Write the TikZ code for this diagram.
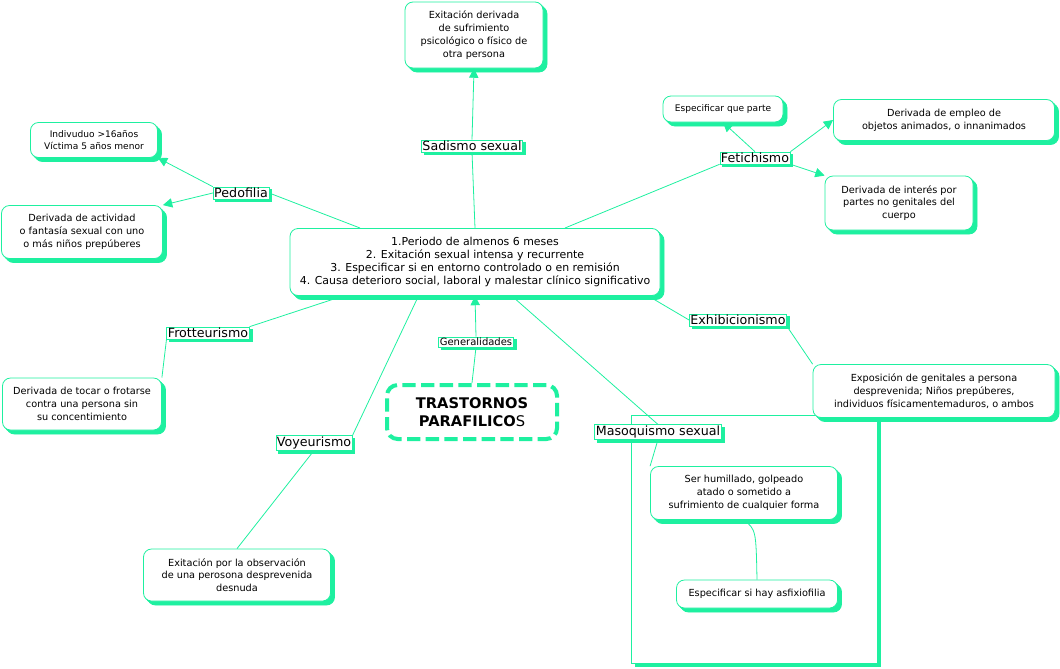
\documentclass[tikz,border=0pt]{standalone}
\usepackage{fontspec}
\setmainfont{DejaVu Sans}
\usetikzlibrary{arrows.meta,shadows}
\definecolor{gr}{RGB}{30,240,160}
\begin{document}
\begin{tikzpicture}[x=0.75pt,y=-0.75pt,
 box/.style={draw=gr,fill=white,rounded corners=6pt,line width=0.6pt,align=center,font=\fontsize{7.3}{9.6}\selectfont,inner sep=2pt,
   double copy shadow={shadow xshift=1.5pt,shadow yshift=-1.5pt,draw=gr,fill=gr,opacity=1}},
 lbl/.style={draw=gr,fill=white,line width=0.5pt,inner sep=0.8pt,font=\fontsize{9.5}{11}\selectfont,
   copy shadow={shadow xshift=2pt,shadow yshift=-2pt,draw=gr,fill=gr}},
 ln/.style={draw=gr,line width=0.6pt},
 ar/.style={ln,-{Triangle[length=7pt,width=7pt]}}]
\useasboundingbox (0,0) rectangle (1060,668);
% big rectangle
\fill[gr] (635,419) rectangle (881,667);
\draw[ln,fill=white] (631,415) rectangle (877,663);
\node[box,minimum width=138*0.75pt,minimum height=66*0.75pt] (top) at (474,35) {Exitación derivada\\de sufrimiento\\psicológico o físico de\\otra persona};
\node[box,minimum width=370*0.75pt,minimum height=67*0.75pt,font=\fontsize{8.2}{9.9}\selectfont] (cen) at (475,262) {1.Periodo de almenos 6 meses\\2. Exitación sexual intensa y recurrente\\3. Especificar si en entorno controlado o en remisión\\4. Causa deterioro social, laboral y malestar clínico significativo};
\node[draw=gr,dashed,dash pattern=on 10pt off 4pt,line width=3pt,rounded corners=8pt,fill=white,minimum width=170*0.75pt,minimum height=54*0.75pt,align=center,font=\bfseries\fontsize{11}{13}\selectfont] (ttl) at (472,412) {TRASTORNOS\\PARAFILICO{\mdseries S}};
\node[box,minimum width=127*0.75pt,minimum height=35*0.75pt,font=\fontsize{6.8}{8.5}\selectfont] (ind) at (94,140) {Indivuduo >16años\\Víctima 5 años menor};
\node[box,minimum width=161*0.75pt,minimum height=53*0.75pt] (dact) at (82,232) {Derivada de actividad\\o fantasía sexual con uno\\o más niños prepúberes};
\node[box,minimum width=120*0.75pt,minimum height=26*0.75pt,font=\fontsize{6.8}{8.5}\selectfont] (esp) at (723,109) {Especificar que parte};
\node[box,minimum width=221*0.75pt,minimum height=41*0.75pt] (demp) at (944,120) {Derivada de empleo de\\objetos animados, o innanimados};
\node[box,minimum width=148*0.75pt,minimum height=54*0.75pt] (dint) at (899,203) {Derivada de interés por\\partes no genitales del\\cuerpo};
\node[box,minimum width=242*0.75pt,minimum height=53*0.75pt] (expo) at (934,391) {Exposición de genitales a persona\\desprevenida; Niños prepúberes,\\individuos físicamentemaduros, o ambos};
\node[box,minimum width=159*0.75pt,minimum height=52*0.75pt] (toc) at (82,404) {Derivada de tocar o frotarse\\contra una persona sin\\su concentimiento};
\node[box,minimum width=187*0.75pt,minimum height=52*0.75pt] (obs) at (237,575) {Exitación por la observación\\de una perosona desprevenida\\desnuda};
\node[box,minimum width=187*0.75pt,minimum height=53*0.75pt] (ser) at (744,493) {Ser humillado, golpeado\\atado o sometido a\\sufrimiento de cualquier forma};
\node[box,minimum width=161*0.75pt,minimum height=28*0.75pt] (asf) at (757,594) {Especificar si hay asfixiofilia};
% labels
\node[lbl] (sad) at (472,146) {Sadismo sexual};
\node[lbl,font=\fontsize{7.5}{9}\selectfont] (gen) at (476,342) {Generalidades};
\node[lbl] (ped) at (241,193) {Pedofilia};
\node[lbl] (fet) at (755,158) {Fetichismo};
\node[lbl] (exh) at (738,320) {Exhibicionismo};
\node[lbl] (fro) at (208,333) {Frotteurismo};
\node[lbl] (voy) at (314,443) {Voyeurismo};
\node[lbl] (mas) at (658,432) {Masoquismo sexual};
% connectors
\begin{scope}[on background layer/.style={}]
\end{scope}
\draw[ln] (ttl.north) -- (gen.south);
\draw[ar] (gen.north) -- (cen.south);
\draw[ln] (cen.north) -- (sad.south);
\draw[ar] (sad.north) -- (top.south);
\draw[ln] (360,228) -- (ped.east);
\draw[ar] (ped.north west) -- (ind.south east);
\draw[ar] (ped.west) -- (dact.north east);
\draw[ln] (565,228) -- (fet.south west);
\draw[ar] (fet.north) -- (esp.south);
\draw[ar] (fet.north east) -- (demp.west);
\draw[ar] (fet.south east) -- (dint.north west);
\draw[ln] (650,297) -- (exh.west);
\draw[ln] (exh.south east) -- (expo.north west);
\draw[ln] (340,297) -- (fro.north east);
\draw[ln] (fro.south west) -- (toc.north east);
\draw[ln] (418,297) -- (voy.north east);
\draw[ln] (voy.south) -- (obs.north);
\draw[ln] (513,297) -- (mas.north);
\draw[ln] (mas.south) -- (ser.north west);
\draw[ln] (ser.south) .. controls (756,530) .. (asf.north);
\end{tikzpicture}
\end{document}
